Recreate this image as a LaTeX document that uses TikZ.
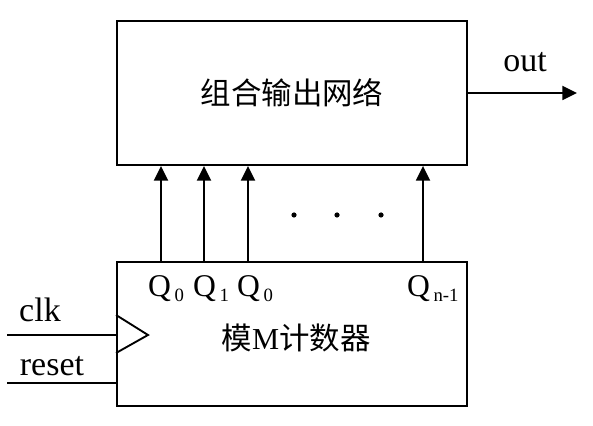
\documentclass[tikz,border=0pt]{standalone}
\usepackage{fontspec}
\setmainfont{Liberation Serif}
\newfontfamily\cjk{Noto Sans CJK SC}
\usetikzlibrary{calc}
\usetikzlibrary{arrows.meta}
\newcommand{\subq}[1]{\hspace{3pt}\raisebox{-4pt}{\fontsize{16}{16}\selectfont #1}}

\begin{document}
\begin{tikzpicture}[x=0.03cm,y=0.03cm,
    blok/.style={draw, line width=1.6pt, minimum width=10.5cm, minimum height=4.32cm, inner sep=0pt},
    sinyal/.style={line width=1.6pt, -{Triangle[length=0.44cm,width=0.42cm]}},
    kawat/.style={line width=1.6pt},
    teks/.style={inner sep=0pt, font=\fontsize{26}{30}\selectfont},
    latin/.style={inner sep=0pt, font=\fontsize{29}{34}\selectfont},
    labelq/.style={inner sep=0pt, anchor=base west, font=\fontsize{27}{30}\selectfont}]
    %BATAS
    \useasboundingbox (0,0) rectangle (593,426);
    %KOTAK-KOTAK
    \node[blok] (net) at (292,333) {};
    \node[teks] (netname) at (292,333) {\cjk 组合输出网络};
    \node[blok] (cnt) at (292,92) {};
    \node[teks] (cntname) at (296,88) {\cjk 模\rmfamily M\cjk 计数器};
    %KELUARAN
    \coordinate (outend) at (577,333);
    \draw[sinyal] (net.east) -- (outend);
    \node[latin] (outname) at (525,364) {out};
    %SINYAL Q
    \coordinate (qa) at (161,0);
    \coordinate (qb) at (204,0);
    \coordinate (qc) at (248,0);
    \coordinate (qd) at (423,0);
    \draw[sinyal] (cnt.north -| qa) -- (net.south -| qa);
    \draw[sinyal] (cnt.north -| qb) -- (net.south -| qb);
    \draw[sinyal] (cnt.north -| qc) -- (net.south -| qc);
    \draw[sinyal] (cnt.north -| qd) -- (net.south -| qd);
    \node[labelq] (qla) at (148,129) {Q\subq{0}};
    \node[labelq] (qlb) at (193,129) {Q\subq{1}};
    \node[labelq] (qlc) at (237,129) {Q\subq{0}};
    \node[labelq] (qld) at (407,129) {Q\subq{n-1}};
    %TITIK
    \foreach \x in {294,337,381}
        \fill (\x,211) circle (2.6);
    %CLK DAN RESET
    \coordinate (clkin) at (7,91);
    \coordinate (rstin) at (7,43);
    \draw[kawat] (clkin) -- (clkin -| cnt.west);
    \draw[kawat] (rstin) -- (rstin -| cnt.west);
    \draw[kawat] ($(cnt.west)+(0,19)$) -- (148,91) -- ($(cnt.west)+(0,-19)$);
    \node[latin] (clkname) at (40,116) {clk};
    \node[latin] (rstname) at (52,60) {reset};
\end{tikzpicture}
\end{document}
